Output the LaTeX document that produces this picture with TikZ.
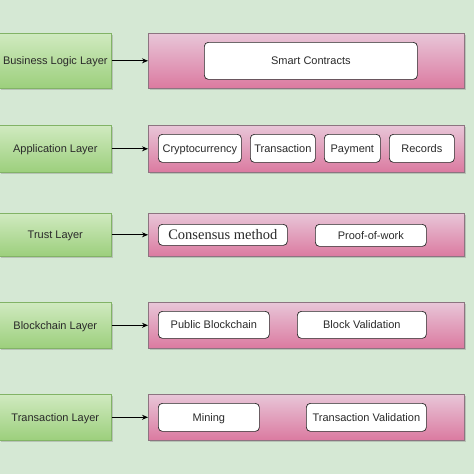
\documentclass[tikz,border=0pt]{standalone}
\usepackage{fontspec}
\setmainfont{Liberation Sans}
\newfontfamily\timesfont{Liberation Serif}
\usetikzlibrary{shadows,arrows.meta}
\definecolor{bgc}{HTML}{D5E8D4}
\definecolor{gtop}{HTML}{D0EAC0}
\definecolor{gbot}{HTML}{9CCF7C}
\definecolor{gborder}{HTML}{82B366}
\definecolor{ptop}{HTML}{E8C6D8}
\definecolor{pbot}{HTML}{DB7AA0}
\definecolor{pborder}{HTML}{8C7480}
\definecolor{txt}{HTML}{2A2A2A}
\tikzset{
  layerbox/.style={draw=gborder, line width=0.6pt, top color=gtop, bottom color=gbot,
    drop shadow={shadow xshift=1.5pt, shadow yshift=-1.5pt, opacity=0.35},
    font=\fontsize{11}{13}\selectfont, text=txt, inner sep=0pt, text height=7.9pt, text depth=0pt},
  groupbox/.style={draw=pborder, line width=0.6pt, top color=ptop, bottom color=pbot,
    drop shadow={shadow xshift=1.5pt, shadow yshift=-1.5pt, opacity=0.35}, inner sep=0pt},
  itembox/.style={draw=black!85, line width=0.7pt, fill=white, rounded corners=4pt,
    font=\fontsize{11}{13}\selectfont, text=txt, inner sep=0pt, text height=7.9pt, text depth=0pt},
  conn/.style={-{Stealth[length=6pt,width=5pt]}, line width=0.8pt, black}
}
\begin{document}
\begin{tikzpicture}[x=1pt,y=-1pt]
\fill[bgc] (0,0) rectangle (474,474);
\useasboundingbox (0,0) rectangle (474,474);
\foreach \nm/\ya/\yb/\lbl in {
  bl/33/88/Business Logic Layer,
  ap/125/172/Application Layer,
  tr/213/256/Trust Layer,
  bc/302/348/Blockchain Layer,
  tx/394/440/Transaction Layer}{
  \node[layerbox, minimum width=112pt, minimum height={\yb-\ya}, anchor=north west]
    (\nm-l) at (-1,\ya) {\lbl};
  \node[groupbox, minimum width=316pt, minimum height={\yb-\ya}, anchor=north west]
    (\nm-g) at (148,\ya) {};
  \draw[conn] (\nm-l.east) -- (\nm-g.west);
}
\node[itembox, minimum width=213pt, minimum height=37pt, anchor=north west] (sc) at (204,42) {Smart Contracts};
\node[itembox, minimum width=83pt, minimum height=28pt, anchor=north west] (cr) at (158,134) {Cryptocurrency};
\node[itembox, minimum width=65pt, minimum height=28pt, anchor=north west] (tn) at (250,134) {Transaction};
\node[itembox, minimum width=56pt, minimum height=28pt, anchor=north west] (pm) at (324,134) {Payment};
\node[itembox, minimum width=65pt, minimum height=28pt, anchor=north west] (rc) at (389,134) {Records};
\node[itembox, minimum width=129pt, minimum height=21pt, anchor=north west, font=\timesfont\fontsize{14.5}{16}\selectfont, text height=9.6pt] (cm) at (158,224) {Consensus method};
\node[itembox, minimum width=111pt, minimum height=22pt, anchor=north west] (pw) at (315,224) {Proof-of-work};
\node[itembox, minimum width=111pt, minimum height=27pt, anchor=north west] (pb) at (158,311) {Public Blockchain};
\node[itembox, minimum width=129pt, minimum height=27pt, anchor=north west] (bv) at (297,311) {Block Validation};
\node[itembox, minimum width=101pt, minimum height=28pt, anchor=north west] (mn) at (158,403) {Mining};
\node[itembox, minimum width=120pt, minimum height=28pt, anchor=north west] (tv) at (306,403) {Transaction Validation};
\end{tikzpicture}
\end{document}
